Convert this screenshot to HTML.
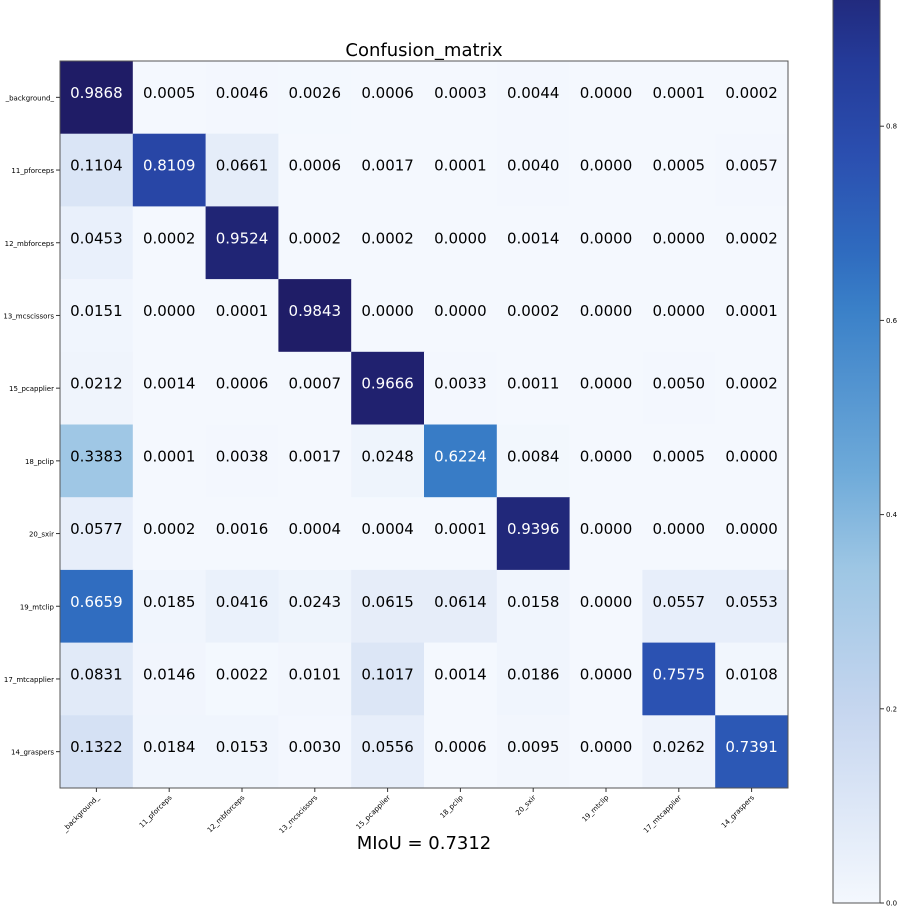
<!DOCTYPE html>
<html><head><meta charset="utf-8"><style>
html,body{margin:0;padding:0;background:#fff;}
svg text{font-family:"DejaVu Sans","Liberation Sans",sans-serif;}
</style></head><body>
<svg id="chart" width="920" height="913" xmlns="http://www.w3.org/2000/svg">
<defs>
<linearGradient id="cbgrad" x1="0" y1="1" x2="0" y2="0">
<stop offset="0" stop-color="#f4f8fe"/>
<stop offset="0.2" stop-color="#c6d6ef"/>
<stop offset="0.35" stop-color="#9dc6e4"/>
<stop offset="0.45" stop-color="#6eaad9"/>
<stop offset="0.62" stop-color="#3a80c8"/>
<stop offset="0.68" stop-color="#2f6bbf"/>
<stop offset="0.78" stop-color="#2b4fb0"/>
<stop offset="0.88" stop-color="#243a98"/>
<stop offset="1" stop-color="#1f1c66"/>
</linearGradient>
</defs>
<text x="424" y="56" font-size="18" text-anchor="middle">Confusion_matrix</text>
<g id="cells"></g>
<rect x="60" y="61" width="728" height="727" fill="none" stroke="#555" stroke-width="1"/>
<g id="axes"></g>
<text x="424" y="849" font-size="18" text-anchor="middle">MIoU = 0.7312</text>
<g id="colorbar"></g>
</svg>
<script>
const labels = ["_background_","11_pforceps","12_mbforceps","13_mcscissors","15_pcapplier","18_pclip","20_sxir","19_mtclip","17_mtcapplier","14_graspers"];
const row0 = [0.9868,0.0005,0.0046,0.0026,0.0006,0.0003,0.0044,0.0000,0.0001,0.0002];
const row1 = [0.1104,0.8109,0.0661,0.0006,0.0017,0.0001,0.0040,0.0000,0.0005,0.0057];
const row2 = [0.0453,0.0002,0.9524,0.0002,0.0002,0.0000,0.0014,0.0000,0.0000,0.0002];
const row3 = [0.0151,0.0000,0.0001,0.9843,0.0000,0.0000,0.0002,0.0000,0.0000,0.0001];
const row4 = [0.0212,0.0014,0.0006,0.0007,0.9666,0.0033,0.0011,0.0000,0.0050,0.0002];
const row5 = [0.3383,0.0001,0.0038,0.0017,0.0248,0.6224,0.0084,0.0000,0.0005,0.0000];
const row6 = [0.0577,0.0002,0.0016,0.0004,0.0004,0.0001,0.9396,0.0000,0.0000,0.0000];
const row7 = [0.6659,0.0185,0.0416,0.0243,0.0615,0.0614,0.0158,0.0000,0.0557,0.0553];
const row8 = [0.0831,0.0146,0.0022,0.0101,0.1017,0.0014,0.0186,0.0000,0.7575,0.0108];
const row9 = [0.1322,0.0184,0.0153,0.0030,0.0556,0.0006,0.0095,0.0000,0.0262,0.7391];
const cbTicks = [0.0,0.2,0.4,0.6,0.8];
const matrix=[row0,row1,row2,row3,row4,row5,row6,row7,row8,row9];
const NS="http://www.w3.org/2000/svg";
const X0=60,Y0=61,W=728,H=727,n=labels.length,cw=W/n,ch=H/n;
const xPos=i=>X0+i*cw, yPos=j=>Y0+j*ch;
let vmax=0;matrix.forEach(r=>r.forEach(v=>{if(v>vmax)vmax=v;}));
const stops=[[0,[244,248,254]],[0.2,[198,214,239]],[0.35,[157,198,228]],[0.45,[110,170,217]],[0.62,[58,128,200]],[0.68,[47,107,191]],[0.78,[43,79,176]],[0.88,[36,58,152]],[1,[31,28,102]]];
function color(t){t=Math.max(0,Math.min(1,t));for(let k=1;k<stops.length;k++){if(t<=stops[k][0]){const a=stops[k-1],b=stops[k],f=(t-a[0])/(b[0]-a[0]);return "rgb("+a[1].map((c,i)=>Math.round(c+(b[1][i]-c)*f)).join(",")+")";}}return "rgb(31,28,102)";}
function mk(tag,attrs,parent){const e=document.createElementNS(NS,tag);for(const k in attrs)e.setAttribute(k,attrs[k]);parent.appendChild(e);return e;}
const cells=document.getElementById("cells");
matrix.forEach((r,j)=>r.forEach((v,i)=>{
 const rc=mk("rect",{x:xPos(i),y:yPos(j),width:cw+0.5,height:ch+0.5,fill:color(v/vmax)},cells);
 
 
 const t=mk("text",{x:xPos(i)+cw/2,y:yPos(j)+ch/2+0.5,"font-size":15,"text-anchor":"middle",fill:v>vmax/2?"#ffffff":"#000000"},cells);
 t.textContent=v.toFixed(4);
 
 
}));
const axes=document.getElementById("axes");
labels.forEach((l,i)=>{
 const cx=xPos(i)+cw/2, cy=yPos(i)+ch/2;
 mk("line",{x1:cx,y1:788,x2:cx,y2:792,stroke:"#333"},axes);
 const xt=mk("text",{x:0,y:0,"font-size":7,"text-anchor":"end",transform:"translate("+(cx+3)+",798) rotate(-45)"},axes);
 xt.textContent=l;
 
 
 mk("line",{x1:56,y1:cy,x2:60,y2:cy,stroke:"#333"},axes);
 const yt=mk("text",{x:54,y:cy+3,"font-size":7,"text-anchor":"end"},axes);
 yt.textContent=l;
 
 
});
const cb=document.getElementById("colorbar");
const CB0=903, cbScale=971; const cbY=v=>CB0-v*cbScale;
const bar=mk("rect",{x:833,y:cbY(vmax),width:47,height:CB0-cbY(vmax),fill:"url(#cbgrad)",stroke:"#555","stroke-width":1},cb);


cbTicks.forEach(v=>{
 mk("line",{x1:880,y1:cbY(v),x2:884,y2:cbY(v),stroke:"#333"},cb);
 const t=mk("text",{x:886,y:cbY(v)+2.5,"font-size":7},cb);
 t.textContent=v.toFixed(1);
 
 
});
</script>
</body></html>
